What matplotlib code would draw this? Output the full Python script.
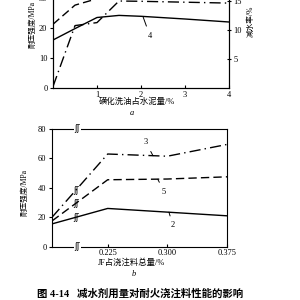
import numpy as np
import matplotlib
matplotlib.use("Agg")
import matplotlib.pyplot as plt

plt.rcParams['font.family'] = ['Liberation Serif', 'Noto Sans CJK SC', 'DejaVu Sans']

# panel a: sulfonated wash oil dosage (% of cement)
oil_dose = [0, 0.5, 1.0, 1.5, 2, 3, 4]
strength_4 = [16.0, 19.8, 23.5, 24.2, 23.9, 23.0, 22.0]      # solid, MPa
strength_dd = [0.5, 20.8, 21.8, 29.0, 28.9, 28.6, 28.3]      # dash-dot, MPa
reduction = [11.0, 14.3, 15.4, 16.2, 16.5, 16.6, 16.6]       # dashed, water reduction %

# panel b: JF dosage (% of castable), 0 sits left of the axis break
jf_dose = [0, 0.225, 0.300, 0.375]
strength_3 = [20.0, 63.0, 61.5, 69.5]
strength_5 = [17.5, 45.5, 46.0, 47.5]
strength_2 = [15.5, 26.0, 23.5, 21.0]
jf_ticks = [0.225, 0.300, 0.375]
jf_ticklabels = ["0.225", "0.300", "0.375"]

BREAK_LEFT = 0.155   # where dose 0 is drawn
BREAK_AT = 0.185     # break marks

dashdot = (0, (8, 3, 1, 3))
dashed = (0, (6, 3))

fig = plt.figure(figsize=(3, 3), dpi=100)

# ---- panel a ----
ax1 = fig.add_axes([53/300, 1 - 88/300, 176/300, 102/300])
ax1.plot(oil_dose, strength_4, color='black', lw=1.0)
ax1.plot(oil_dose, strength_dd, color='black', lw=1.0, linestyle=dashdot)
ax1.set_xlim(0, 4)
ax1.set_ylim(0, 34)
ax1.set_xticks([1, 2, 3, 4])
ax1.set_yticks([0, 10, 20, 30])
ax1.spines['top'].set_visible(False)
ax1.tick_params(axis='x', direction='in', length=2.5, labelsize=6, pad=2)
ax1.tick_params(axis='y', direction='out', length=2.5, labelsize=6, pad=1.5)
ax1.annotate('4', xy=(2.05, 23.6), xytext=(2.2, 17.5), fontsize=6,
             ha='center', va='center',
             arrowprops=dict(arrowstyle='-', lw=0.7, color='black', shrinkA=2, shrinkB=0))

ax1r = ax1.twinx()
ax1r.plot(oil_dose, reduction, color='black', lw=1.0, linestyle=dashed)
ax1r.set_ylim(0, 17.6)
ax1r.set_yticks([5, 10, 15])
ax1r.spines['top'].set_visible(False)
ax1r.tick_params(axis='y', direction='inout', length=3, labelsize=6, pad=1.5)

fig.text(33/300, 1 - 48/300, '耐压强度/MPa', rotation=90, ha='center', va='bottom', fontsize=5.5)
fig.text(251/300, 1 - 37/300, '减水率/%', rotation=90, ha='center', va='bottom', fontsize=5.5)
fig.text(137/300, 1 - 102/300, '磺化洗油占水泥量/%', ha='center', va='center', fontsize=6)
fig.text(132/300, 1 - 113/300, 'a', ha='center', va='center', fontsize=6, style='italic')

# ---- panel b ----
ax2 = fig.add_axes([52/300, 1 - 246.7/300, 175/300, 117.7/300])
x_plot = [BREAK_LEFT if v == 0 else v for v in jf_dose]
ax2.plot(x_plot, strength_3, color='black', lw=1.0, linestyle=dashdot)
ax2.plot(x_plot, strength_5, color='black', lw=1.0, linestyle=dashed)
ax2.plot(x_plot, strength_2, color='black', lw=1.0)
ax2.set_xlim(BREAK_LEFT, 0.375)
ax2.set_ylim(0, 80)
ax2.set_xticks(jf_ticks)
ax2.set_xticklabels(jf_ticklabels)
ax2.set_yticks([0, 20, 40, 60, 80])
ax2.tick_params(axis='x', direction='in', length=2.5, labelsize=6, pad=2)
ax2.tick_params(axis='y', direction='out', length=2.5, labelsize=6, pad=1.5)

for vals in (strength_3, strength_5, strength_2):
    yb = np.interp(BREAK_AT, x_plot, vals)
    ax2.text(BREAK_AT, yb, 'ʃʃ', ha='center', va='center', fontsize=6,
             family='DejaVu Sans')
for yb in (0, 80):
    ax2.text(BREAK_AT + 0.002, yb, 'ʃʃ', ha='center', va='center', fontsize=6,
             family='DejaVu Sans', clip_on=False,
             bbox=dict(facecolor='white', edgecolor='none', pad=0.2))

ax2.annotate('3', xy=(0.282, 61.8), xytext=(0.273, 71), fontsize=6, ha='center', va='center',
             arrowprops=dict(arrowstyle='-', lw=0.7, color='black', shrinkA=2, shrinkB=0))
ax2.annotate('5', xy=(0.288, 45.8), xytext=(0.296, 37.5), fontsize=6, ha='center', va='center',
             arrowprops=dict(arrowstyle='-', lw=0.7, color='black', shrinkA=2, shrinkB=0))
ax2.annotate('2', xy=(0.302, 23.5), xytext=(0.307, 14.5), fontsize=6, ha='center', va='center',
             arrowprops=dict(arrowstyle='-', lw=0.7, color='black', shrinkA=2, shrinkB=0))

fig.text(25/300, 1 - 192/300, '耐压强度/MPa', rotation=90, ha='center', va='center', fontsize=5.5)
fig.text(132/300, 1 - 263/300, 'JF占浇注料总量/%', ha='center', va='center', fontsize=6)
fig.text(134/300, 1 - 274/300, 'b', ha='center', va='center', fontsize=6, style='italic')

fig.text(140/300, 1 - 294/300, '图 4-14   减水剂用量对耐火浇注料性能的影响',
         ha='center', va='center', fontsize=7.5, fontweight='bold')

fig.savefig('out.png', dpi=100)
